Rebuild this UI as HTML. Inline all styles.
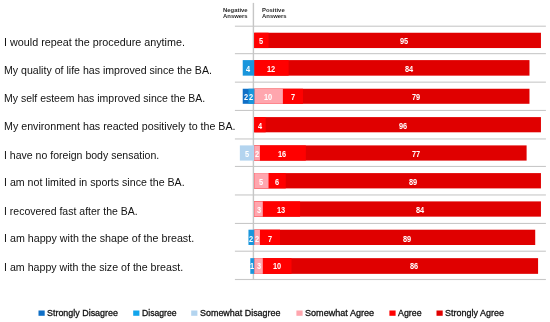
<!DOCTYPE html>
<html><head><meta charset="utf-8"><title>chart</title>
<style>
html,body{margin:0;padding:0;background:#fff;}
body{width:550px;height:322px;position:relative;overflow:hidden;font-family:"Liberation Sans",sans-serif;}
svg{position:absolute;left:0;top:0;}
.l{position:absolute;font-size:10.4px;line-height:14px;height:14px;color:#111;white-space:nowrap;transform-origin:0 50%;}
.n{position:absolute;font-size:9.0px;font-weight:bold;color:#fff;line-height:12px;height:12px;width:20px;margin-left:-10px;text-align:center;transform:scaleX(0.82);}
.h{position:absolute;font-size:6.1px;font-weight:bold;color:#2a2a2a;line-height:8px;height:8px;white-space:nowrap;transform-origin:0 50%;transform:scaleX(0.97);}
.k{position:absolute;top:306.9px;-webkit-text-stroke:0.3px #111;font-size:9.2px;line-height:12px;color:#111;white-space:nowrap;transform-origin:0 50%;}
</style></head><body>

<svg width="550" height="322" viewBox="0 0 550 322">
<rect x="234.9" y="25.65" width="311" height="1.1" fill="#c8c8c8"/>
<rect x="234.9" y="53.10" width="311" height="1.1" fill="#c8c8c8"/>
<rect x="234.9" y="81.60" width="311" height="1.1" fill="#c8c8c8"/>
<rect x="234.9" y="109.90" width="311" height="1.1" fill="#c8c8c8"/>
<rect x="234.9" y="138.40" width="311" height="1.1" fill="#c8c8c8"/>
<rect x="234.9" y="165.90" width="311" height="1.1" fill="#c8c8c8"/>
<rect x="234.9" y="194.40" width="311" height="1.1" fill="#c8c8c8"/>
<rect x="234.9" y="222.90" width="311" height="1.1" fill="#c8c8c8"/>
<rect x="234.9" y="250.65" width="311" height="1.1" fill="#c8c8c8"/>
<rect x="234.9" y="278.95" width="311" height="1.1" fill="#c8c8c8"/>
<rect x="252.7" y="2.9" width="1.4" height="277" fill="#c6c6c6"/>
<rect x="254.20" y="32.75" width="286.75" height="15.30" fill="#e00000"/>
<rect x="254.20" y="32.75" width="14.34" height="15.30" fill="#ff0000"/>
<rect x="254.20" y="60.10" width="275.28" height="15.55" fill="#e00000"/>
<rect x="254.20" y="60.10" width="34.41" height="15.55" fill="#ff0000"/>
<rect x="242.73" y="60.10" width="11.47" height="15.55" fill="#1996dc"/>
<rect x="254.20" y="88.75" width="275.28" height="15.05" fill="#e00000"/>
<rect x="254.20" y="88.75" width="48.75" height="15.05" fill="#ff0000"/>
<rect x="254.20" y="88.75" width="28.68" height="15.05" fill="#ffa6ae"/>
<rect x="242.73" y="88.75" width="11.47" height="15.05" fill="#0f6fc6"/>
<rect x="248.46" y="88.75" width="5.74" height="15.05" fill="#1996dc"/>
<rect x="254.20" y="117.10" width="286.75" height="15.20" fill="#e00000"/>
<rect x="254.20" y="117.10" width="11.47" height="15.20" fill="#ff0000"/>
<rect x="254.20" y="145.40" width="272.41" height="15.20" fill="#e00000"/>
<rect x="254.20" y="145.40" width="51.62" height="15.20" fill="#ff0000"/>
<rect x="254.20" y="145.40" width="5.74" height="15.20" fill="#ffa6ae"/>
<rect x="239.86" y="145.40" width="14.34" height="15.20" fill="#b3d4ef"/>
<rect x="254.20" y="173.10" width="286.75" height="15.30" fill="#e00000"/>
<rect x="254.20" y="173.10" width="31.54" height="15.30" fill="#ff0000"/>
<rect x="254.20" y="173.10" width="14.34" height="15.30" fill="#ffa6ae"/>
<rect x="254.20" y="201.40" width="286.75" height="15.25" fill="#e00000"/>
<rect x="254.20" y="201.40" width="45.88" height="15.25" fill="#ff0000"/>
<rect x="254.20" y="201.40" width="8.60" height="15.25" fill="#ffa6ae"/>
<rect x="254.20" y="229.70" width="281.02" height="15.30" fill="#e00000"/>
<rect x="254.20" y="229.70" width="25.81" height="15.30" fill="#ff0000"/>
<rect x="254.20" y="229.70" width="5.74" height="15.30" fill="#ffa6ae"/>
<rect x="248.46" y="229.70" width="5.74" height="15.30" fill="#1996dc"/>
<rect x="254.20" y="258.15" width="283.88" height="15.70" fill="#e00000"/>
<rect x="254.20" y="258.15" width="37.28" height="15.70" fill="#ff0000"/>
<rect x="254.20" y="258.15" width="8.60" height="15.70" fill="#ffa6ae"/>
<rect x="250.30" y="258.15" width="3.90" height="15.70" fill="#1996dc"/>
<rect x="38.5" y="310.5" width="6.2" height="5.3" fill="#0f6fc6"/>
<rect x="133.2" y="310.5" width="6.2" height="5.3" fill="#12a5ec"/>
<rect x="191.2" y="310.5" width="6.2" height="5.3" fill="#b3d4ef"/>
<rect x="296.4" y="310.5" width="6.2" height="5.3" fill="#ffa6ae"/>
<rect x="389.4" y="310.5" width="6.2" height="5.3" fill="#ff0000"/>
<rect x="436.5" y="310.5" width="6.2" height="5.3" fill="#e00000"/>
</svg>
<div class="h" style="left:222.9px;top:6.38px">Negative</div>
<div class="h" style="left:222.9px;top:11.68px">Answers</div>
<div class="h" style="left:261.9px;top:6.38px">Positive</div>
<div class="h" style="left:261.9px;top:11.68px">Answers</div>
<div class="l" style="left:3.9px;top:35.71px;transform:scaleX(1.0373)">I would repeat the procedure anytime.</div>
<div class="n" style="left:261.37px;top:34.70px">5</div>
<div class="n" style="left:404.24px;top:34.70px">95</div>
<div class="l" style="left:3.9px;top:63.91px;transform:scaleX(1.0198)">My quality of life has improved since the BA.</div>
<div class="n" style="left:270.90px;top:62.67px">12</div>
<div class="n" style="left:408.55px;top:62.67px">84</div>
<div class="n" style="left:248.47px;top:62.67px">4</div>
<div class="l" style="left:3.9px;top:91.71px;transform:scaleX(1.0094)">My self esteem has improved since the BA.</div>
<div class="n" style="left:268.04px;top:91.28px">10</div>
<div class="n" style="left:292.91px;top:91.28px">7</div>
<div class="n" style="left:415.71px;top:91.28px">79</div>
<div class="n" style="left:251.33px;top:91.28px">2</div>
<div class="n" style="left:245.60px;top:91.28px">2</div>
<div class="l" style="left:3.9px;top:119.91px;transform:scaleX(1.0282)">My environment has reacted positively to the BA.</div>
<div class="n" style="left:259.94px;top:119.55px">4</div>
<div class="n" style="left:402.81px;top:119.55px">96</div>
<div class="l" style="left:3.9px;top:148.71px;transform:scaleX(1.0136)">I have no foreign body sensation.</div>
<div class="n" style="left:257.07px;top:147.80px">2</div>
<div class="n" style="left:282.38px;top:147.80px">16</div>
<div class="n" style="left:415.71px;top:147.80px">77</div>
<div class="n" style="left:247.03px;top:147.80px">5</div>
<div class="l" style="left:3.9px;top:176.11px;transform:scaleX(1.0222)">I am not limited in sports since the BA.</div>
<div class="n" style="left:261.37px;top:175.95px">5</div>
<div class="n" style="left:277.14px;top:175.95px">6</div>
<div class="n" style="left:412.85px;top:175.95px">89</div>
<div class="l" style="left:3.9px;top:204.71px;transform:scaleX(1.0107)">I recovered fast after the BA.</div>
<div class="n" style="left:258.50px;top:203.93px">3</div>
<div class="n" style="left:280.94px;top:203.93px">13</div>
<div class="n" style="left:420.02px;top:203.93px">84</div>
<div class="l" style="left:3.9px;top:232.11px;transform:scaleX(1.0286)">I am happy with the shape of the breast.</div>
<div class="n" style="left:257.07px;top:232.55px">2</div>
<div class="n" style="left:269.97px;top:232.55px">7</div>
<div class="n" style="left:407.11px;top:232.55px">89</div>
<div class="n" style="left:251.33px;top:232.55px">2</div>
<div class="l" style="left:3.9px;top:260.71px;transform:scaleX(1.0236)">I am happy with the size of the breast.</div>
<div class="n" style="left:258.50px;top:260.30px">3</div>
<div class="n" style="left:276.64px;top:260.30px">10</div>
<div class="n" style="left:414.28px;top:260.30px">86</div>
<div class="n" style="left:252.25px;top:260.30px">1</div>
<div class="k" style="left:47.1px;transform:scaleX(0.9710)">Strongly Disagree</div>
<div class="k" style="left:142.1px;transform:scaleX(0.9397)">Disagree</div>
<div class="k" style="left:200.1px;transform:scaleX(0.9729)">Somewhat Disagree</div>
<div class="k" style="left:304.9px;transform:scaleX(0.9877)">Somewhat Agree</div>
<div class="k" style="left:397.5px;transform:scaleX(0.9613)">Agree</div>
<div class="k" style="left:444.5px;transform:scaleX(0.9776)">Strongly Agree</div>
</body></html>
